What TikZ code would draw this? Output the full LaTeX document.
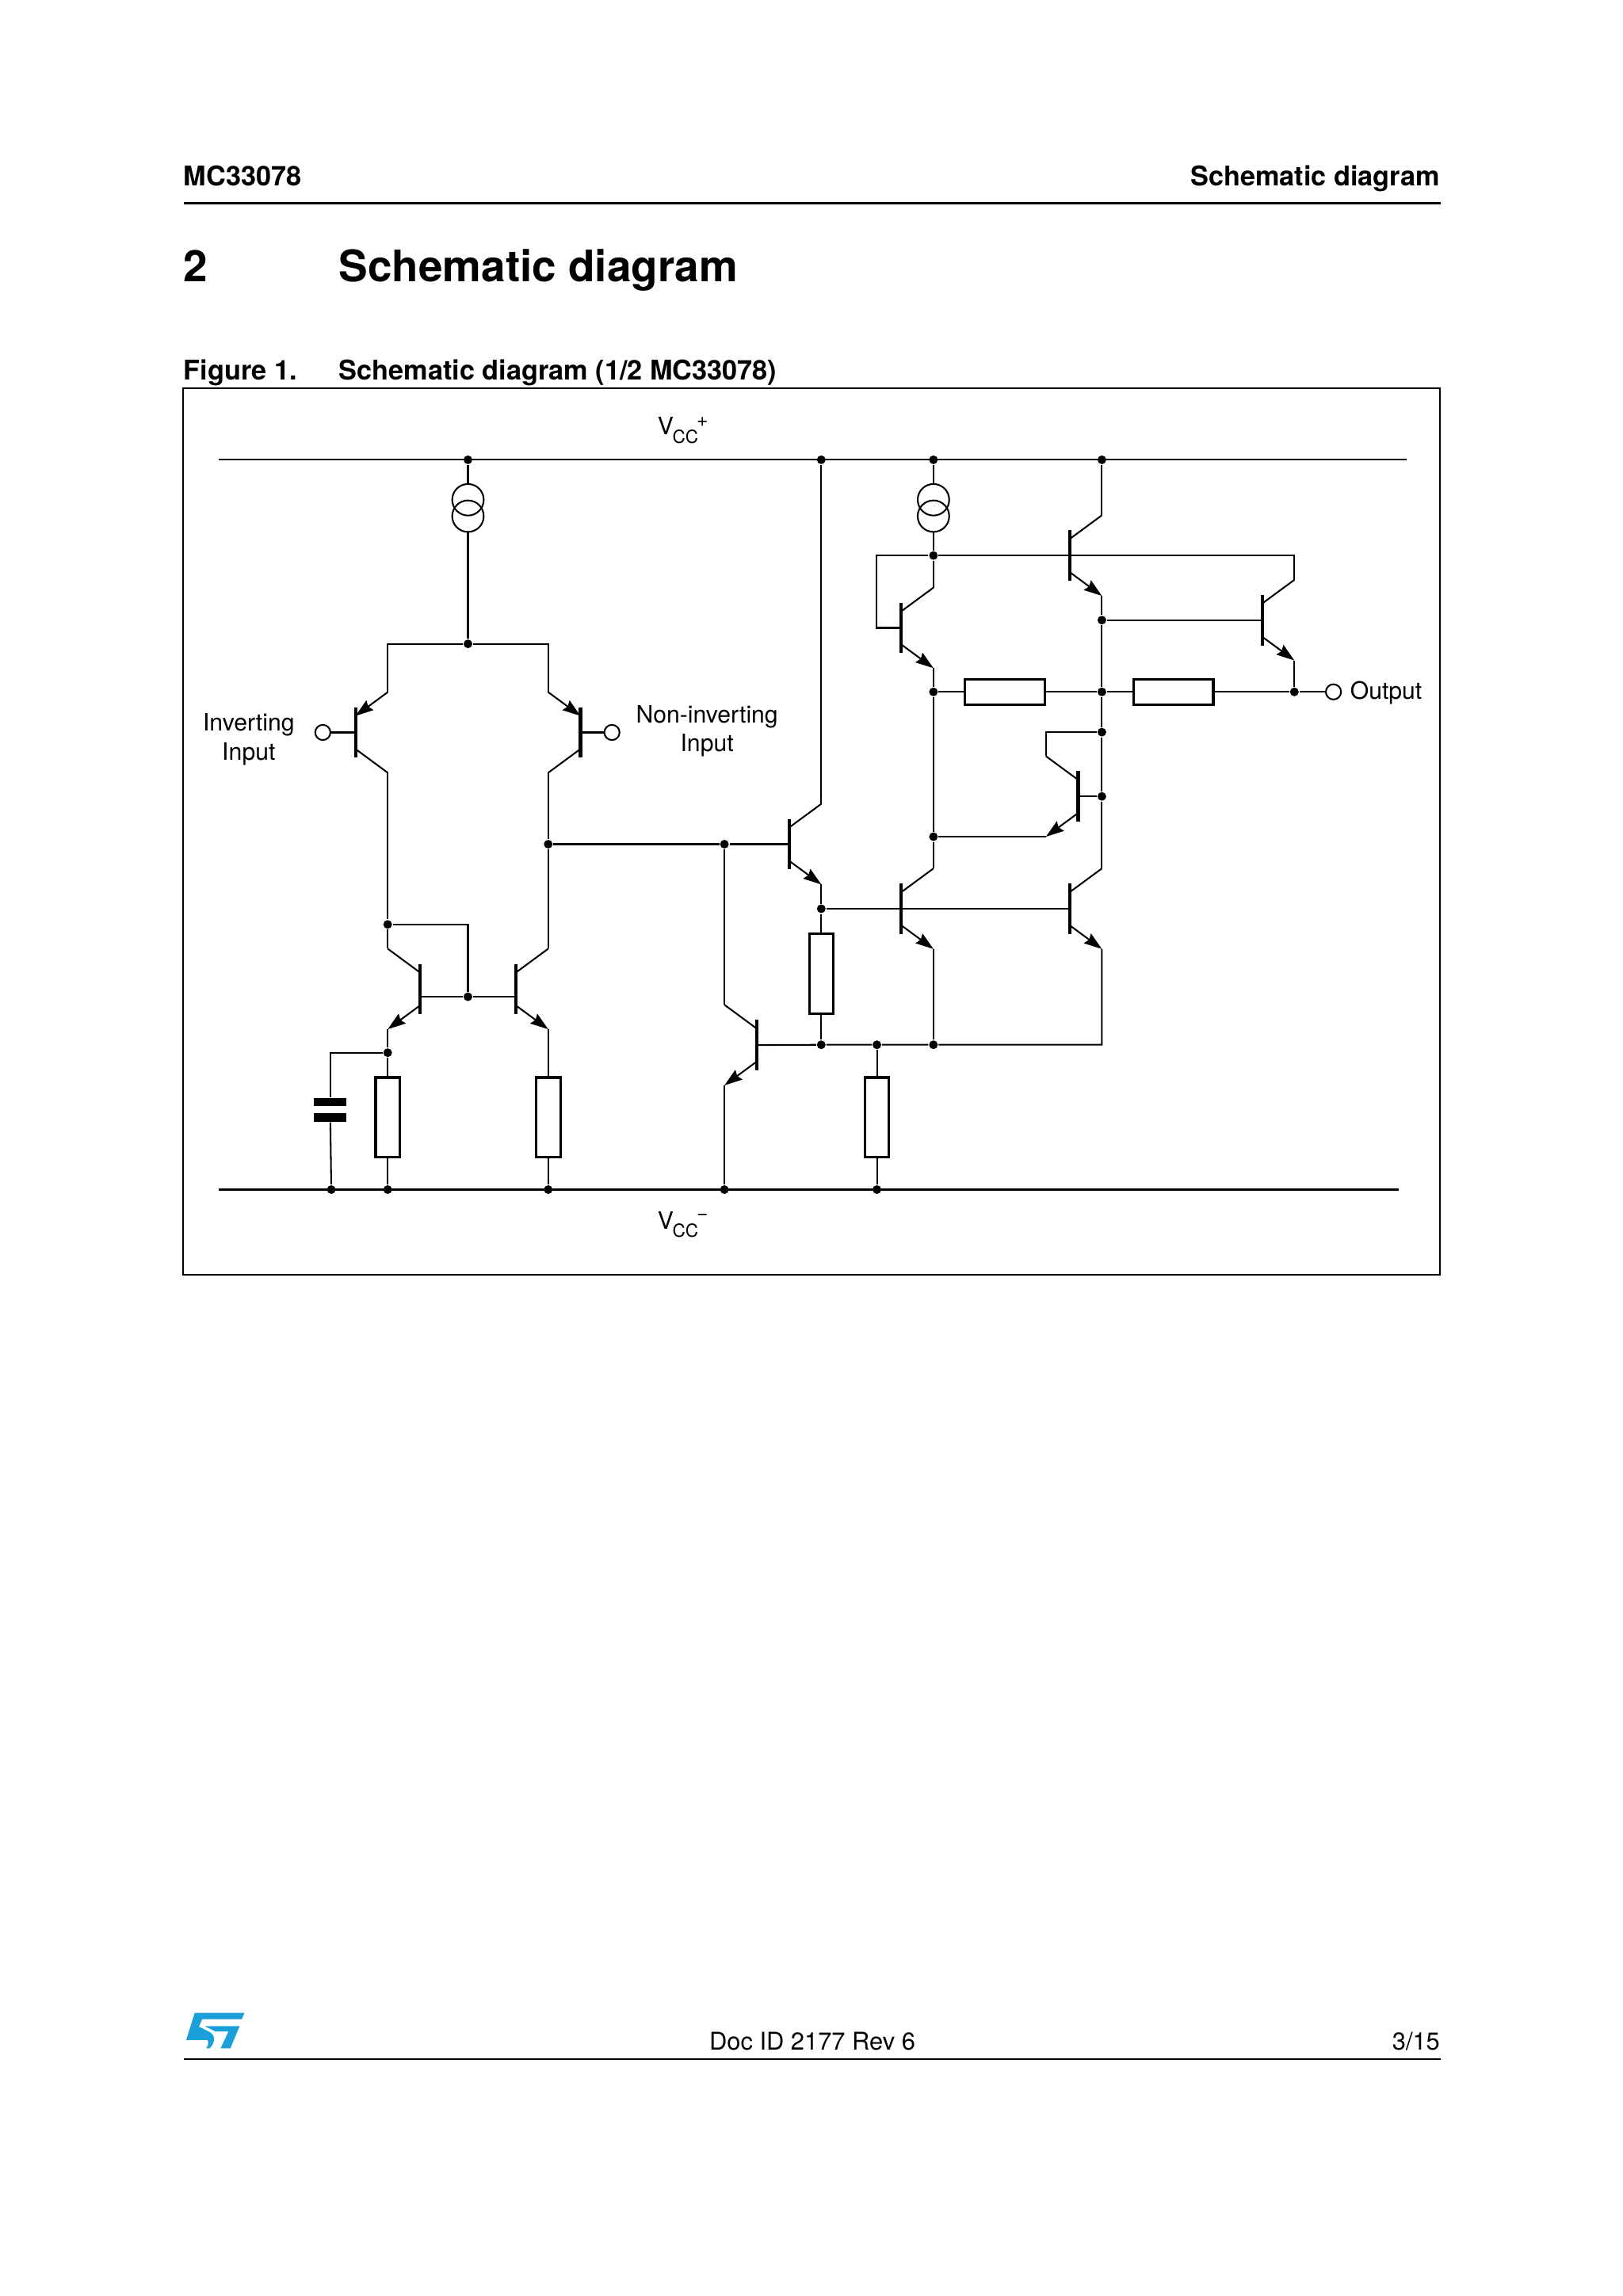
\documentclass[tikz,border=0pt]{standalone}
\usepackage{fontspec}
\setmainfont{TeX Gyre Heros}
\usepackage{xcolor}
\usetikzlibrary{arrows.meta, positioning}
\definecolor{stblue}{HTML}{1A9FDB}
\newcommand{\vcclabel}[2]{V\kern-0.4pt\raisebox{-3pt}{\fontsize{6.6}{8}\selectfont CC}\kern-0.6pt\raisebox{#2}{\fontsize{7.2}{8}\selectfont #1}}

\begin{document}
\begin{tikzpicture}[
        x=0.018953cm, y=-0.018953cm,
        line width=0.6pt,
        bar/.style={line width=1.2pt},
        dot/.style={circle, fill=black, inner sep=0pt, minimum size=3.2pt},
        term/.style={circle, draw, fill=white, inner sep=0pt, minimum size=5.6pt},
        ring/.style={circle, draw, inner sep=0pt, minimum size=11.6pt},
        rv/.style={rectangle, draw, line width=0.9pt, inner sep=0pt, minimum width=8.9pt, minimum height=29.4pt},
        rh/.style={rectangle, draw, line width=0.9pt, inner sep=0pt, minimum width=29.4pt, minimum height=9.2pt},
        plate/.style={rectangle, fill=black, inner sep=0pt, minimum width=12pt, minimum height=3pt},
        lbl/.style={inner sep=0pt, font=\fontsize{8.8}{10.6}\selectfont, align=center},
        head/.style={inner sep=0pt, anchor=base west, font=\fontsize{10}{12}\selectfont\bfseries},
        rule/.style={line width=0.8pt},
        pics/npn/.style={code={
            \coordinate (-b) at (0,0);
            \coordinate (-c) at (22,-27.5);
            \coordinate (-e) at (22,27.5);
            \draw[bar] (0,-17.2) -- (0,17.2);
            \draw (0,-11.3) -- (-c);
            \draw[-{Stealth[length=6.6pt,width=4.4pt,inset=0.8pt]}] (0,11.3) -- (-e);
        }},
        pics/pnp/.style={code={
            \coordinate (-b) at (0,0);
            \coordinate (-c) at (22,27.5);
            \coordinate (-e) at (22,-27.5);
            \draw[bar] (0,-17.2) -- (0,17.2);
            \draw (0,11.3) -- (-c);
            \draw[-{Stealth[length=6.6pt,width=4.4pt,inset=0.8pt]}] (-e) -- (0,-11.3);
        }}
    ]
        \useasboundingbox (0,0) rectangle (1108,1568);

        \node[head] (hdrL) at (124.9,126.7) {MC33078};
        \node[head, anchor=base east] (hdrR) at (983.6,126.7) {Schematic diagram};
        \coordinate (ruleTL) at (125.6,138.9);
        \coordinate (ruleTR) at (983.6,138.9);
        \draw[rule] (ruleTL) -- (ruleTR);
        \node[head, font=\fontsize{16}{19}\selectfont\bfseries] (secnum) at (124.9,192.6) {2};
        \node[head, font=\fontsize{16}{19}\selectfont\bfseries] (sectitle) at (230.9,192.6) {Schematic diagram};
        \node[head] (fignum) at (124.9,259.3) {Figure 1.};
        \node[head] (figtitle) at (230.9,259.3) {Schematic diagram (1/2 MC33078)};
        \node[draw, inner sep=0pt, minimum width=462.7pt, minimum height=326.4pt] (frame) at (554.2,568) {};

        \coordinate (topL) at (149.4,314);
        \coordinate (topR) at (960.5,314);
        \coordinate (botL) at (149.4,812.4);
        \coordinate (botR) at (955.2,812.4);
        \draw (topL) -- (topR);
        \draw (botL) -- (botR);
        \node[lbl, anchor=base west] (vccp) at (448.4,297) {\vcclabel{+}{3pt}};
        \node[lbl, anchor=base west] (vccm) at (448.4,839.5) {\vcclabel{\textminus}{3.4pt}};

        \node[ring] (s1a) at (319.5,341.3) {};
        \node[ring] (s1b) at (319.5,352.5) {};
        \node[ring] (s2a) at (637.3,341.3) {};
        \node[ring] (s2b) at (637.3,352.5) {};

        \pic (Q1) at (242.7,500.2) {pnp};
        \pic[xscale=-1] (Q2) at (396.3,500.2) {pnp};
        \pic[xscale=-1] (Q3) at (286.7,675.4) {npn};
        \pic (Q4) at (352.3,675.4) {npn};
        \pic[xscale=-1] (Q5) at (516.6,713.7) {npn};
        \pic (Q6) at (538.7,576.5) {npn};
        \pic (Q7) at (615.3,620.6) {npn};
        \pic (Q8) at (730.3,620.6) {npn};
        \pic (Q9) at (615.3,428.8) {npn};
        \pic (Q10) at (730.3,379.4) {npn};
        \pic (Q11) at (861.7,423.5) {npn};
        \pic[xscale=-1] (Q12) at (736.1,543.9) {npn};
        \coordinate (b3) at (286.7,680.7);
        \coordinate (b4) at (352.3,680.7);

        \node[dot] (d1) at (319.5,314) {};
        \node[dot] (d2) at (319.5,439.7) {};
        \node[dot] (d3) at (264.7,631.3) {};
        \node[dot] (d4) at (319.5,680.7) {};
        \node[dot] (d5) at (374.3,576.5) {};
        \node[dot] (d6) at (494.6,576.5) {};
        \node[dot] (d7) at (494.6,812.4) {};
        \node[dot] (d8) at (264.7,718.9) {};
        \node[dot] (d9) at (264.7,812.4) {};
        \node[dot] (d10) at (226.2,812.4) {};
        \node[dot] (d11) at (374.3,812.4) {};
        \node[dot] (d12) at (560.7,314) {};
        \node[dot] (d13) at (560.7,620.6) {};
        \node[dot] (d14) at (560.7,713.5) {};
        \node[dot] (d15) at (598.7,713.5) {};
        \node[dot] (d16) at (637.3,713.5) {};
        \node[dot] (d17) at (598.7,812.4) {};
        \node[dot] (d18) at (637.3,314) {};
        \node[dot] (d19) at (637.3,379.4) {};
        \node[dot] (d20) at (637.3,472.5) {};
        \node[dot] (d21) at (637.3,571.4) {};
        \node[dot] (d22) at (752.3,472.5) {};
        \node[dot] (d23) at (883.7,472.5) {};
        \node[dot] (d24) at (752.3,314) {};
        \node[dot] (d25) at (752.3,423.5) {};
        \node[dot] (d26) at (752.3,500) {};
        \node[dot] (d27) at (752.3,543.9) {};
        \coordinate (k1) at (598.6,379.4);

        \node[rv] (R1) at (264.7,763.1) {};
        \node[rv] (R2) at (374.3,763.1) {};
        \node[rv] (R3) at (598.7,763.1) {};
        \node[rv] (R4) at (560.7,664.8) {};
        \node[rh] (R5) at (686,472.5) {};
        \node[rh] (R6) at (801.1,472.5) {};
        \node[plate] (C1a) at (225.5,752.6) {};
        \node[plate] (C1b) at (225.5,763.2) {};

        \node[term] (in1) at (220.4,500.2) {};
        \node[term] (in2) at (417.8,500.2) {};
        \node[term] (out1) at (910.4,472.5) {};
        \node[lbl] (in1txt) at (169.8,505) {Inverting\\Input};
        \node[lbl] (in2txt) at (482.7,499.4) {Non-inverting\\Input};
        \node[lbl, anchor=west] (out1txt) at (921.3,473.2) {Output};

        \draw (d1) -- (s1a);
        \draw (s1b) -- (d2);
        \draw (Q1-e) |- (d2) -| (Q2-e);
        \draw (in1) -- (Q1-b);
        \draw (Q2-b) -- (in2);
        \draw (Q1-c) -- (d3) -- (Q3-c);
        \draw (d3) -| (d4);
        \draw (b3) -- (d4) -- (b4);
        \draw (Q2-c) -- (d5) -- (Q4-c);
        \draw (d5) -- (d6) -- (Q6-b);
        \draw (d6) -- (Q5-c);
        \draw (Q5-e) -- (d7);
        \draw (Q3-e) -- (d8) -- (R1) -- (d9);
        \draw (d8) -| (C1a);
        \draw (C1b) -- (d10);
        \draw (Q4-e) -- (R2) -- (d11);
        \draw (d12) -- (Q6-c);
        \draw (Q6-e) -- (d13) -- (R4) -- (d14);
        \draw (d13) -- (Q8-b);
        \draw (Q5-b) -- (d14) -- (d15) -- (d16) -| (Q8-e);
        \draw (d15) -- (R3) -- (d17);
        \draw (Q7-e) -- (d16);
        \draw (d18) -- (s2a);
        \draw (s2b) -- (d19) -- (Q9-c);
        \draw (d19) -- (k1) |- (Q9-b);
        \draw (d19) -| (Q11-c);
        \draw (Q9-e) -- (d20) -- (d21) -- (Q7-c);
        \draw (d20) -- (R5) -- (d22) -- (R6) -- (d23) -- (out1);
        \draw (d24) -- (Q10-c);
        \draw (Q10-e) -- (d25) -- (d22) -- (d26) -- (d27) -- (Q8-c);
        \draw (d25) -- (Q11-b);
        \draw (Q11-e) -- (d23);
        \draw (d26) -| (Q12-c);
        \draw (Q12-b) -- (d27);
        \draw (Q12-e) -- (d21);

        \begin{scope}[shift={(121.75,1371.8)}, scale=0.1804]
            \fill[stblue] (62,16) -- (250,16) -- (240,40) -- (90,40) -- (78,68) -- (122,90)
                .. controls (140,100) and (140,130) .. (118,150) -- (105,150)
                .. controls (115,140) and (115,125) .. (110,118) -- (30,118) -- cycle;
            \fill[stblue] (100,66) -- (232,66) -- (197,150) -- (160,150) -- (190,86) -- (140,86) -- cycle;
        \end{scope}
        \coordinate (ruleBL) at (125.6,1406.2);
        \coordinate (ruleBR) at (983.6,1406.2);
        \draw[rule] (ruleBL) -- (ruleBR);
        \node[lbl, font=\fontsize{9}{11}\selectfont, anchor=base] (docid) at (554.6,1400) {Doc ID 2177 Rev 6};
        \node[lbl, font=\fontsize{9}{11}\selectfont, anchor=base east] (pageno) at (983.6,1400) {3/15};
    \end{tikzpicture}
\end{document}
